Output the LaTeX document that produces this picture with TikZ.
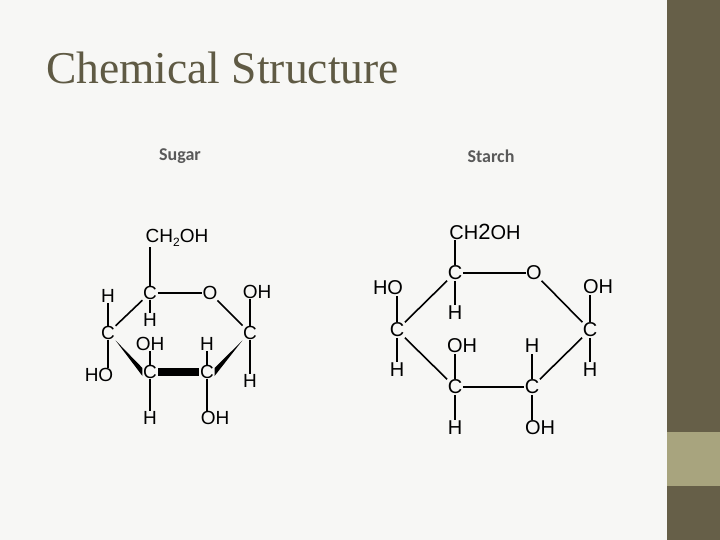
\documentclass[tikz,border=0pt]{standalone}
\usepackage{fontspec}
\setmainfont{Liberation Sans}
\newfontfamily\titlefont{Liberation Serif}
\newfontfamily\capfont{Carlito}
\definecolor{bg}{HTML}{F7F7F5}
\definecolor{olive}{HTML}{665F48}
\definecolor{tan}{HTML}{A8A47E}
\definecolor{titlec}{HTML}{5F5A44}
\definecolor{capc}{HTML}{595959}
\begin{document}
\begin{tikzpicture}[x=1pt,y=-1pt,
  at1/.style={inner sep=0.5pt,font=\fontsize{19}{19}\selectfont},
  at2/.style={inner sep=0.5pt,font=\fontsize{20}{20}\selectfont},
  bond/.style={line width=1.6pt},
  wedge/.style={fill=black}]
\fill[bg] (0,0) rectangle (720,540);
\fill[olive] (667,0) rectangle (720,540);
\fill[tan] (667,432) rectangle (720,486);
\useasboundingbox (0,0) rectangle (720,540);
\node[anchor=base west,font=\titlefont\fontsize{45.5}{46}\selectfont,text=titlec,inner sep=0] (title) at (46,84) {Chemical Structure};
\node[font=\capfont\bfseries\fontsize{18}{18}\selectfont,text=capc] (cap1) at (180,156) {Sugar};
\node[font=\capfont\bfseries\fontsize{18}{18}\selectfont,text=capc] (cap2) at (491,156) {Starch};
% Sugar
\node[at1] (s0) at (177,238) {CH\raisebox{-4pt}{\fontsize{12}{12}\selectfont 2}OH};
\node[at1] (s1) at (150,293) {C};
\node[at1] (sO) at (210,293) {O};
\node[at1] (sR) at (250,333) {C};
\node[at1] (sL) at (108,333) {C};
\node[at1] (sBL) at (150,372) {C};
\node[at1] (sBR) at (207,372) {C};
\node[at1] (h1) at (108,296) {H};
\node[at1] (h2) at (150,320) {H};
\node[at1] (h3) at (257,292) {OH};
\node[at1] (h4) at (99,375) {HO};
\node[at1] (h5) at (150,344) {OH};
\node[at1] (h6) at (207,344) {H};
\node[at1] (h7) at (250,381) {H};
\node[at1] (h8) at (150,418) {H};
\node[at1] (h9) at (215,418) {OH};
\draw[bond] (s1) -- (s0.south -| s1);
\draw[bond] (s1) -- (sO); \draw[bond] (sO) -- (sR); \draw[bond] (sL) -- (s1);
\draw[bond] (s1) -- (h2); \draw[bond] (sL) -- (h1); \draw[bond] (sL) -- (h4.north -| sL);
\draw[bond] (sBL) -- (h5); \draw[bond] (sBL) -- (h8); \draw[bond] (sBR) -- (h6); \draw[bond] (sBR) -- (h9.north -| sBR);
\draw[bond] (sR) -- (h3.south -| sR); \draw[bond] (sR) -- (h7);
\fill[wedge] (sL.south east) -- ([yshift=-4]sBL.west) -- ([yshift=4]sBL.west) -- cycle;
\fill[wedge] (sBL.east |- 0,368) rectangle (sBR.west |- 0,376);
\fill[wedge] (sR.south west) -- ([yshift=-4]sBR.east) -- ([yshift=4]sBR.east) -- cycle;
% Starch
\node[at2] (t0) at (485,232) {CH{\fontsize{22}{22}\selectfont 2}OH};
\node[at2] (t1) at (455,273) {C};
\node[at2] (tO) at (534,273) {O};
\node[at2] (tR) at (590,330) {C};
\node[at2] (tL) at (397,330) {C};
\node[at2] (tBL) at (455,387) {C};
\node[at2] (tBR) at (532,387) {C};
\node[at2] (k1) at (388,288) {HO};
\node[at2] (k2) at (455,313) {H};
\node[at2] (k3) at (598,287) {OH};
\node[at2] (k4) at (397,370) {H};
\node[at2] (k5) at (462,346) {OH};
\node[at2] (k6) at (532,346) {H};
\node[at2] (k7) at (590,370) {H};
\node[at2] (k8) at (455,428) {H};
\node[at2] (k9) at (540,428) {OH};
\draw[bond] (t1) -- (t0.south -| t1);
\draw[bond] (t1) -- (tO); \draw[bond] (tO) -- (tR); \draw[bond] (tL) -- (t1);
\draw[bond] (tL) -- (tBL); \draw[bond] (tBL) -- (tBR); \draw[bond] (tBR) -- (tR);
\draw[bond] (t1) -- (k2); \draw[bond] (tL) -- (k1.south -| tL); \draw[bond] (tL) -- (k4);
\draw[bond] (tBL) -- (k5.south -| tBL); \draw[bond] (tBL) -- (k8);
\draw[bond] (tBR) -- (k6); \draw[bond] (tBR) -- (k9.north -| tBR);
\draw[bond] (tR) -- (k3.south -| tR); \draw[bond] (tR) -- (k7);
\end{tikzpicture}
\end{document}
